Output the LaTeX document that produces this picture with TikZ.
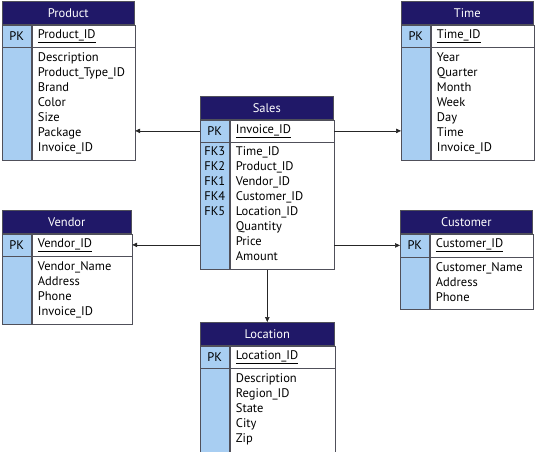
\documentclass[tikz,border=0pt]{standalone}
\usepackage{fontspec}
\setmainfont{PT Sans}
\usetikzlibrary{arrows.meta}
\usetikzlibrary{positioning}

\definecolor{erdnavy}{RGB}{32,24,104}
\definecolor{erdblue}{RGB}{168,206,242}
\definecolor{erdline}{RGB}{80,80,90}

\tikzset{
  tabhead/.style={draw=erdline,fill=erdnavy,text=white,anchor=north west,inner sep=0pt,minimum height=23pt},
  keycell/.style={draw=erdline,fill=erdblue,anchor=north west,inner sep=0pt,minimum width=29pt},
  namecell/.style={draw=erdline,fill=white,anchor=north west,inner xsep=6pt,inner ysep=0pt,align=left},
  fieldlist/.style={anchor=north west,inner sep=0pt,align=left},
  keylist/.style={anchor=north,inner sep=0pt,align=center},
  fk/.style={-{Triangle[length=5pt,width=4.5pt]},black!85}
}

\begin{document}
\begin{tikzpicture}[x=1pt,y=-1pt,font=\fontsize{12.5}{15}\selectfont,line width=0.6pt]
      \useasboundingbox (0,0) rectangle (535,452);

      % Product
      \node[tabhead,minimum width=132pt] (prodhead) at (2,1) {Product};
      \node[keycell,minimum height=22pt] (prodkey) at (prodhead.south west) {PK};
      \node[namecell,text width=91pt,minimum height=22pt] (prodpk) at (prodkey.north east) {\underline{Product\_ID}};
      \node[keycell,minimum height=113pt] (prodcol) at (prodkey.south west) {};
      \node[namecell,text width=91pt,minimum height=113pt] (prodbody) at (prodcol.north east) {};
      \node[fieldlist] (prodattr) at ([xshift=6pt,yshift=-5pt]prodbody.north west)
        {Description\\Product\_Type\_ID\\Brand\\Color\\Size\\Package\\Invoice\_ID};

      % Time
      \node[tabhead,minimum width=132pt] (timehead) at (401,1) {Time};
      \node[keycell,minimum height=22pt] (timekey) at (timehead.south west) {PK};
      \node[namecell,text width=91pt,minimum height=22pt] (timepk) at (timekey.north east) {\underline{Time\_ID}};
      \node[keycell,minimum height=113pt] (timecol) at (timekey.south west) {};
      \node[namecell,text width=91pt,minimum height=113pt] (timebody) at (timecol.north east) {};
      \node[fieldlist] (timeattr) at ([xshift=6pt,yshift=-5pt]timebody.north west)
        {Year\\Quarter\\Month\\Week\\Day\\Time\\Invoice\_ID};

      % Sales
      \node[tabhead,minimum width=133pt] (saleshead) at (200,96) {Sales};
      \node[keycell,minimum height=22pt] (saleskey) at (saleshead.south west) {PK};
      \node[namecell,text width=92pt,minimum height=22pt] (salespk) at (saleskey.north east) {\underline{Invoice\_ID}};
      \node[keycell,minimum height=127pt] (salescol) at (saleskey.south west) {};
      \node[namecell,text width=92pt,minimum height=127pt] (salesbody) at (salescol.north east) {};
      \node[keylist] (salesfks) at ([yshift=-4pt]salescol.north)
        {FK3\\FK2\\FK1\\FK4\\FK5};
      \node[fieldlist] (salesattr) at ([xshift=6pt,yshift=-4pt]salesbody.north west)
        {Time\_ID\\Product\_ID\\Vendor\_ID\\Customer\_ID\\Location\_ID\\Quantity\\Price\\Amount};

      % Vendor
      \node[tabhead,minimum width=129pt] (vendhead) at (2,210) {Vendor};
      \node[keycell,minimum height=22pt] (vendkey) at (vendhead.south west) {PK};
      \node[namecell,text width=88pt,minimum height=22pt] (vendpk) at (vendkey.north east) {\underline{Vendor\_ID}};
      \node[keycell,minimum height=68pt] (vendcol) at (vendkey.south west) {};
      \node[namecell,text width=88pt,minimum height=68pt] (vendbody) at (vendcol.north east) {};
      \node[fieldlist] (vendattr) at ([xshift=6pt,yshift=-5pt]vendbody.north west)
        {Vendor\_Name\\Address\\Phone\\Invoice\_ID};

      % Customer
      \node[tabhead,minimum width=132pt] (custhead) at (400,210) {Customer};
      \node[keycell,minimum height=23pt] (custkey) at (custhead.south west) {PK};
      \node[namecell,text width=91pt,minimum height=23pt] (custpk) at (custkey.north east) {\underline{Customer\_ID}};
      \node[keycell,minimum height=52pt] (custcol) at (custkey.south west) {};
      \node[namecell,text width=91pt,minimum height=52pt] (custbody) at (custcol.north east) {};
      \node[fieldlist] (custattr) at ([xshift=6pt,yshift=-5pt]custbody.north west)
        {Customer\_Name\\Address\\Phone};

      % Location
      \node[tabhead,minimum width=134pt] (lochead) at (200,322) {Location};
      \node[keycell,minimum height=22pt] (lockey) at (lochead.south west) {PK};
      \node[namecell,text width=93pt,minimum height=22pt] (locpk) at (lockey.north east) {\underline{Location\_ID}};
      \node[keycell,minimum height=86pt] (loccol) at (lockey.south west) {};
      \node[namecell,text width=93pt,minimum height=86pt] (locbody) at (loccol.north east) {};
      \node[fieldlist] (locattr) at ([xshift=6pt,yshift=-5pt]locbody.north west)
        {Description\\Region\_ID\\State\\City\\Zip};

      % links
      \draw[fk] (saleskey.west) -- (saleskey.west -| prodbody.east);
      \draw[fk] (salespk.east) -- (salespk.east -| timecol.west);
      \draw[fk] (salescol.west |- vendpk.east) -- (vendpk.east);
      \draw[fk] (salesbody.east |- custkey.west) -- (custkey.west);
      \draw[fk] (lochead.north |- salesbody.south) -- (lochead.north);
\end{tikzpicture}
\end{document}
